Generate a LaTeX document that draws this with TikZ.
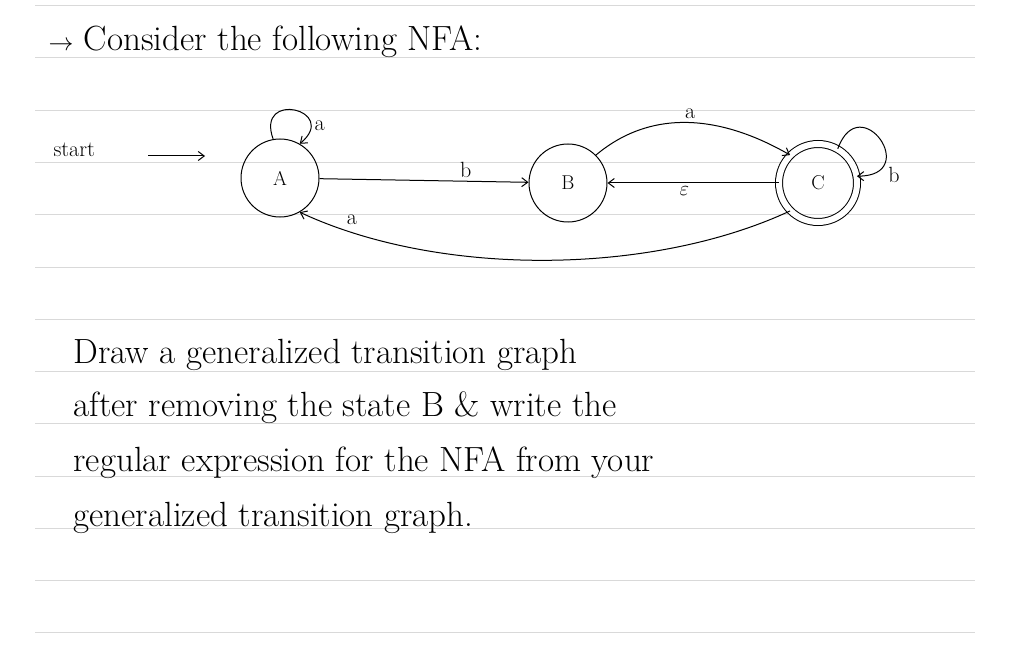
\documentclass[tikz,border=0pt]{standalone}
\usetikzlibrary{arrows.meta}
\begin{document}
\begin{tikzpicture}[x=1pt,y=-1pt,
  rule/.style={draw=black!15,line width=0.8pt},
  st/.style={circle,draw,line width=1pt,minimum size=78pt,inner sep=0pt,font=\fontsize{20}{22}\selectfont},
  tr/.style={line width=1pt,-{Straight Barb[length=6pt,width=9pt]}},
  lab/.style={font=\fontsize{22}{24}\selectfont},
  txt/.style={anchor=west,font=\fontsize{35}{38}\selectfont}]
\useasboundingbox (0,0) rectangle (1024,660);
\fill[white] (0,0) rectangle (1024,660);
\foreach \y in {5,57,110,162,214,267,319,371,423,476,528,580,632}
  \draw[rule] (35,\y) -- (975,\y);
\node[txt] (t0) at (45,42) {$\rightarrow$ Consider the following NFA:};
\node[lab,anchor=west] (start) at (50,150) {start};
\coordinate (s1) at (148,156);
\coordinate (s2) at (205,156);
\node[st] (A) at (280,178) {A};
\node[st] (B) at (568,183) {B};
\node[st,double,double distance=6pt] (C) at (818,183) {C};
\draw[tr] (s1) -- (s2);
\draw[tr] (A.100) to[out=110,in=40,looseness=5] node[lab,right,pos=0.8] {a} (A.60);
\draw[tr] (A) -- node[lab,above,pos=0.7] {b} (B);
\draw[tr] (B.north east) to[out=40,in=150] node[lab,above] {a} (C.north west);
\draw[tr] (C) -- node[lab,below,pos=0.55] {$\varepsilon$} (B);
\draw[tr] (C.60) to[out=70,in=0,looseness=5] node[lab,below right,pos=0.75] {b} (C.10);
\draw[tr] (C.south west) to[out=-155,in=-25,looseness=0.8] (A.-60);
\node[lab] (la) at (352,220) {a};
\node[txt] (p1) at (70,355) {Draw a generalized transition graph};
\node[txt] (p2) at (70,408) {after removing the state B \& write the};
\node[txt] (p3) at (70,463) {regular expression for the NFA from your};
\node[txt] (p4) at (70,518) {generalized transition graph.};
\end{tikzpicture}
\end{document}
